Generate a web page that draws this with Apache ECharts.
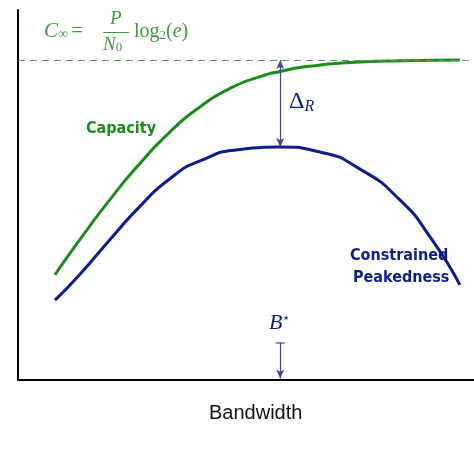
<!DOCTYPE html>
<html>
<head>
<meta charset="utf-8">
<script src="https://cdn.jsdelivr.net/npm/echarts@6/dist/echarts.min.js"></script>
<style>html,body{margin:0;padding:0;background:#fff}#chart{width:474px;height:474px}</style>
</head>
<body>
<div id="chart"></div>
<script>
// curve points (x: bandwidth 0..100, y: rate 0..100)
var capX = [8.1, 13.6, 20.2, 26.8, 33.3, 39.9, 46.5, 53.1, 57.5, 64.0, 72.8, 83.8, 96.9];
var capY = [28.4, 38.0, 48.8, 58.6, 67.0, 73.8, 78.8, 82.0, 83.4, 84.8, 85.8, 86.3, 86.5];
var pkX = [8.1, 13.6, 20.2, 26.8, 33.3, 39.9, 48.7, 57.5, 66.2, 75.0, 83.8, 90.4, 96.9];
var pkY = [21.6, 28.6, 38.0, 47.0, 54.4, 59.2, 62.3, 63.0, 61.6, 57.0, 48.6, 38.6, 25.7];
var cInf = 86.5;
var bStar = 57.5;

function pairs(xs, ys) { return xs.map(function (x, i) { return [x, ys[i]]; }); }

var chart = echarts.init(document.getElementById('chart'));
var green = '#1b8c1b', blue = '#0c1d8c', math = 'serif';

chart.setOption({
    animation: false,
    grid: {left: 18, right: 0, top: 10, bottom: 94},
    xAxis: {type: 'value', min: 0, max: 100, axisLine: {onZero: false, lineStyle: {color: '#000', width: 2}},
        axisTick: {show: false}, axisLabel: {show: false}, splitLine: {show: false}},
    yAxis: {type: 'value', min: 0, max: 100, axisLine: {show: true, lineStyle: {color: '#000', width: 2}},
        axisTick: {show: false}, axisLabel: {show: false}, splitLine: {show: false}},
    series: [
        {type: 'line', data: pairs(capX, capY), smooth: 0.6, symbol: 'none',
            lineStyle: {color: green, width: 3},
            markLine: {silent: true, symbol: 'none', label: {show: false},
                lineStyle: {color: '#5a9a5a', type: [7, 5], width: 1.2},
                data: [{yAxis: cInf}]}},
        {type: 'line', data: pairs(pkX, pkY), smooth: 0.6, symbol: 'none',
            lineStyle: {color: blue, width: 3},
            markLine: {silent: true, symbol: ['arrow', 'arrow'], symbolSize: [6, 9], label: {show: false},
                lineStyle: {color: '#3a46a0', type: 'solid', width: 1.2},
                data: [
                    [{coord: [bStar, cInf]}, {coord: [bStar, pkY[7]]}],
                    [{coord: [bStar, 10], symbol: 'none'}, {coord: [bStar, 0.4], symbol: 'arrow'}]
                ]}},
        {type: 'scatter', data: [[bStar, 10]], symbol: 'rect', symbolSize: [9, 1.5],
            itemStyle: {color: '#3a46a0'}, silent: true}
    ],
    graphic: [
        {type: 'text', left: 44, top: 21, style: {text: '{i|C}{s|∞} {n|=}',
            rich: {i: {fontFamily: math, fontStyle: 'italic', fontSize: 21, fill: '#3f9a3f'},
                s: {fontFamily: math, fontSize: 14, fill: '#3f9a3f', padding: [6, 0, 0, 0]},
                n: {fontFamily: math, fontSize: 21, fill: '#3f9a3f'}}}},
        {type: 'text', left: 110, top: 9, style: {text: 'P', fontFamily: math, fontStyle: 'italic', fontSize: 19, fill: '#3f9a3f'}},
        {type: 'rect', shape: {x: 103, y: 32, width: 26, height: 1}, style: {fill: '#3f9a3f'}},
        {type: 'text', left: 103, top: 35, style: {text: '{i|N}{s|0}',
            rich: {i: {fontFamily: math, fontStyle: 'italic', fontSize: 19, fill: '#3f9a3f'},
                s: {fontFamily: math, fontSize: 13, fill: '#3f9a3f', padding: [6, 0, 0, 0]}}}},
        {type: 'text', left: 134, top: 22, style: {text: '{n|log}{s|2}{n|(}{i|e}{n|)}',
            rich: {n: {fontFamily: math, fontSize: 20, fill: '#3f9a3f'},
                i: {fontFamily: math, fontStyle: 'italic', fontSize: 20, fill: '#3f9a3f'},
                s: {fontFamily: math, fontSize: 13, fill: '#3f9a3f', padding: [8, 0, 0, 0]}}}},
        {type: 'text', left: 289, top: 90, style: {text: '{n|Δ}{s|R}',
            rich: {n: {fontFamily: math, fontSize: 24, fill: blue},
                s: {fontFamily: math, fontStyle: 'italic', fontSize: 16, fill: blue, padding: [10, 0, 0, 0]}}}},
        {type: 'text', left: 86, top: 121, style: {text: 'Capacity', fontFamily: 'DejaVu Sans Condensed',
            fontWeight: 'bold', fontSize: 16, fill: green}},
        {type: 'text', left: 350, top: 248, style: {text: 'Constrained', fontFamily: 'DejaVu Sans Condensed',
            fontWeight: 'bold', fontSize: 16, fill: blue}},
        {type: 'text', left: 353, top: 270, style: {text: 'Peakedness', fontFamily: 'DejaVu Sans Condensed',
            fontWeight: 'bold', fontSize: 16, fill: blue}},
        {type: 'text', left: 269, top: 312, style: {text: '{i|B}{s|⋆}',
            rich: {i: {fontFamily: math, fontStyle: 'italic', fontSize: 22, fill: blue},
                s: {fontFamily: math, fontSize: 13, fill: blue, padding: [0, 0, 10, 0]}}}},
        {type: 'text', left: 209, top: 403, style: {text: 'Bandwidth', fontFamily: 'Liberation Sans', fontSize: 20, fill: '#111'}}
    ]
});
</script>
</body>
</html>
